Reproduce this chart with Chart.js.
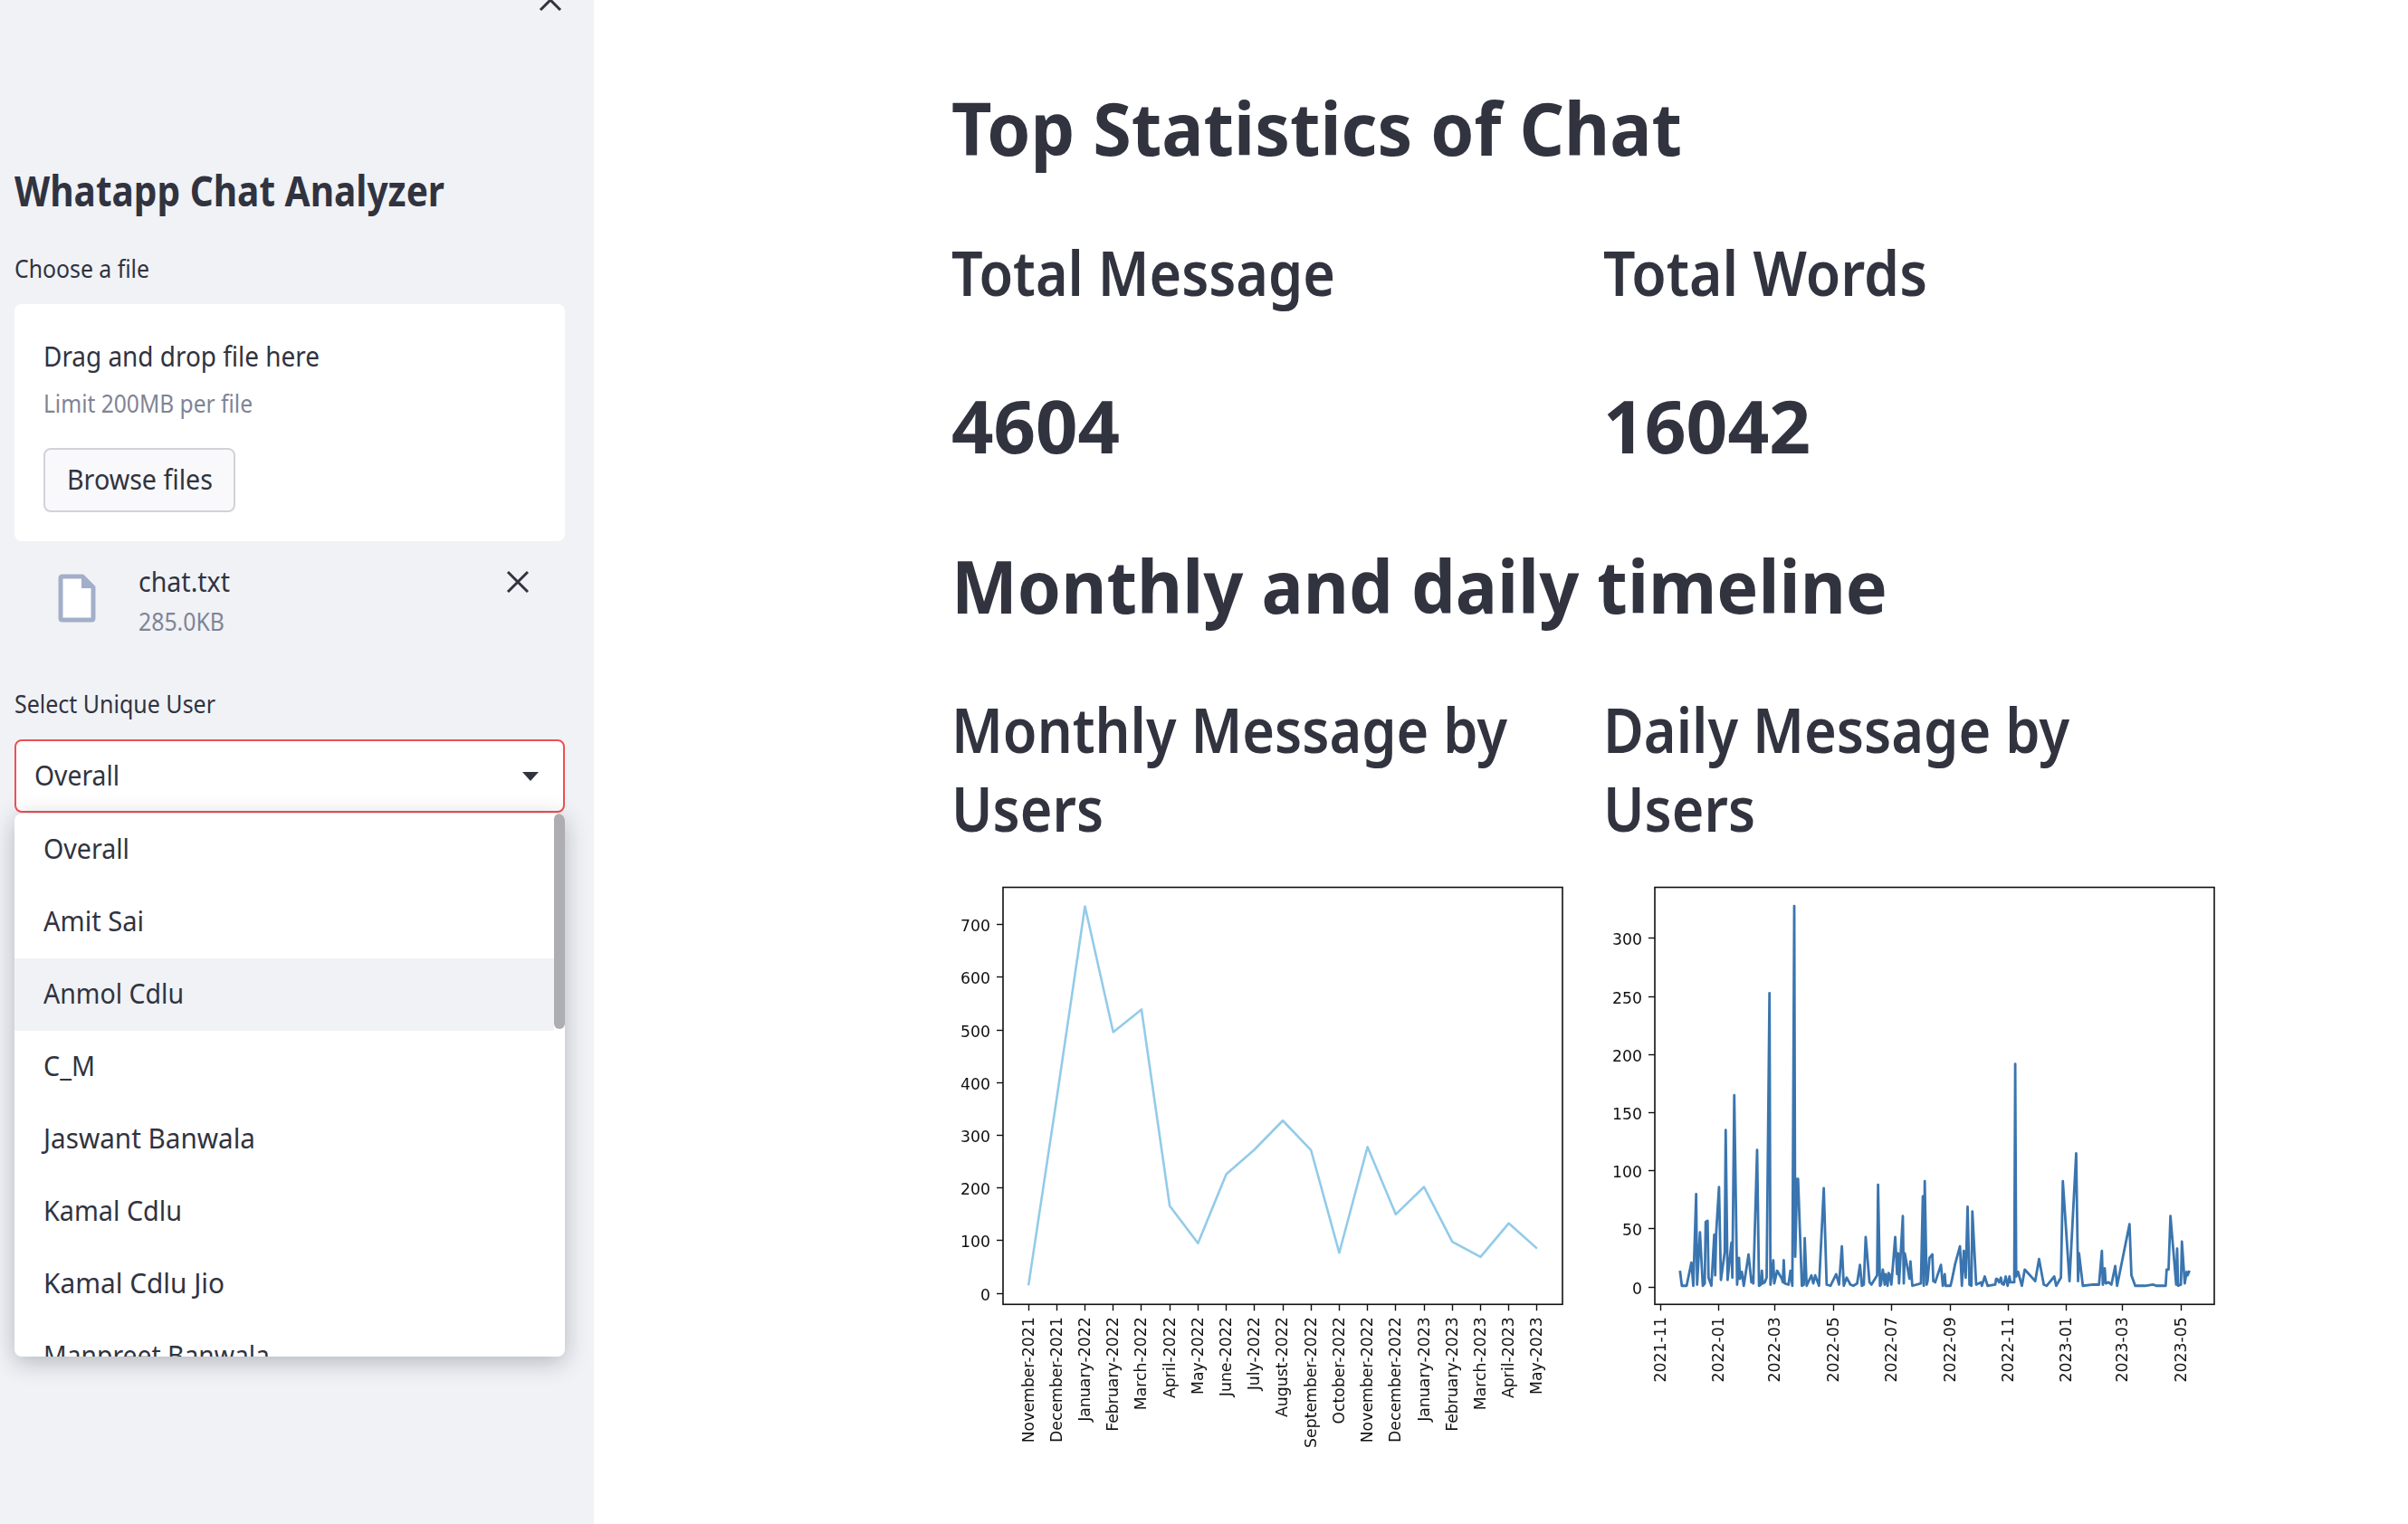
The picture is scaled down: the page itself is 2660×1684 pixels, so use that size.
<!DOCTYPE html>
<html>
<head>
<meta charset="utf-8">
<title>Whatapp Chat Analyzer</title>
<script src="https://cdn.jsdelivr.net/npm/chart.js@4"></script>
<style>
  html, body { margin: 0; padding: 0; background: #fff; }
  body { width: 2660px; height: 1684px; position: relative; overflow: hidden; font-family: "Noto Sans", sans-serif; color: #31333f; }
  .sidebar { position: absolute; left: 0; top: 0; width: 656px; height: 1684px; background: #f0f2f6; }
  .t { position: absolute; white-space: nowrap; transform-origin: 0 50%; line-height: 1; }
  .box { position: absolute; box-sizing: border-box; }
  .b7 { font-weight: 700; }
  .b6 { font-weight: 600; }
  .h1 { font-size: 80px; font-weight: 700; }
  .h3 { font-size: 68px; font-weight: 600; }
  .sm { font-size: 27px; }
  .md { font-size: 31px; }
  .mute { color: #808495; }
  canvas { position: absolute; }
</style>
</head>
<body>
<div class="sidebar"></div>

<svg class="box" style="left:591px;top:-17px" width="34" height="34" viewBox="0 0 34 34"><path d="M6 6 L28 28 M28 6 L6 28" stroke="#31333f" stroke-width="3" fill="none"/></svg>
<div class="t b7" data-w="475" style="left:16px;top:187px;font-size:46px">Whatapp Chat Analyzer</div>
<div class="t sm" data-w="149" style="left:16px;top:283px">Choose a file</div>

<div class="box" style="left:16px;top:336px;width:608px;height:262px;background:#fff;border-radius:8px"></div>
<div class="t md" data-w="305" style="left:48px;top:378px">Drag and drop file here</div>
<div class="t sm mute" data-w="231" style="left:48px;top:432px">Limit 200MB per file</div>
<div class="box" style="left:48px;top:495px;width:212px;height:71px;background:#f9f9fb;border:2px solid #d2d3d8;border-radius:8px"></div>
<div class="t md" data-w="161" style="left:74px;top:514px">Browse files</div>

<svg class="box" style="left:64px;top:634px" width="42" height="54" viewBox="0 0 42 54"><path d="M5 3 H27 L39 15 V49 Q39 51 37 51 H5 Q3 51 3 49 V5 Q3 3 5 3 Z" fill="#fff" stroke="#a3afc9" stroke-width="5" stroke-linejoin="round"/><path d="M26 3 V16 H39 Z" fill="#a3afc9"/></svg>
<div class="t md" data-w="101" style="left:153px;top:627px">chat.txt</div>
<div class="t sm mute" data-w="95" style="left:153px;top:673px">285.0KB</div>
<svg class="box" style="left:555px;top:626px" width="34" height="34" viewBox="0 0 34 34"><path d="M6 6 L28 28 M28 6 L6 28" stroke="#31333f" stroke-width="3" fill="none"/></svg>

<div class="t sm" data-w="222" style="left:16px;top:764px">Select Unique User</div>
<div class="box" style="left:16px;top:817px;width:608px;height:81px;background:#fff;border:2px solid #ef5050;border-radius:8px"></div>
<div class="t md" data-w="94" style="left:38px;top:841px">Overall</div>
<svg class="box" style="left:577px;top:853px" width="18" height="10" viewBox="0 0 18 10"><path d="M0 0 H18 L9 10 Z" fill="#31333f"/></svg>

<div class="box" id="menu" style="left:16px;top:899px;width:608px;height:600px;background:#fff;border-radius:8px;box-shadow:0 6px 26px rgba(40,45,60,.3);overflow:hidden">
  <div class="box" style="left:0;top:160px;width:596px;height:80px;background:#f0f2f6"></div>
  <div class="box" style="left:596px;top:0;width:12px;height:238px;background:#adadb2;border-radius:6px"></div>
  <div class="t md" data-w="95"  style="left:32px;top:23px">Overall</div>
  <div class="t md" data-w="111" style="left:32px;top:103px">Amit Sai</div>
  <div class="t md" data-w="155" style="left:32px;top:183px">Anmol Cdlu</div>
  <div class="t md" data-w="57"  style="left:32px;top:263px">C_M</div>
  <div class="t md" data-w="234" style="left:32px;top:343px">Jaswant Banwala</div>
  <div class="t md" data-w="153" style="left:32px;top:423px">Kamal Cdlu</div>
  <div class="t md" data-w="200" style="left:32px;top:503px">Kamal Cdlu Jio</div>
  <div class="t md" data-w="250" style="left:32px;top:583px">Manpreet Banwala</div>
</div>

<div class="t h1" data-w="807" style="left:1051px;top:101px">Top Statistics of Chat</div>
<div class="t h3" data-w="424" style="left:1051px;top:267px">Total Message</div>
<div class="t h3" data-w="358" style="left:1771px;top:267px">Total Words</div>
<div class="t h1" data-w="186" style="left:1051px;top:430px">4604</div>
<div class="t h1" data-w="229" style="left:1771px;top:430px">16042</div>
<div class="t h1" data-w="1034" style="left:1051px;top:607px">Monthly and daily timeline</div>
<div class="t h3" data-w="614" style="left:1051px;top:772px">Monthly Message by</div>
<div class="t h3" data-w="168" style="left:1051px;top:859px">Users</div>
<div class="t h3" data-w="515" style="left:1771px;top:772px">Daily Message by</div>
<div class="t h3" data-w="168" style="left:1771px;top:859px">Users</div>

<canvas id="monthlyChart" style="left:1040px;top:960px"></canvas>
<canvas id="dailyChart" style="left:1760px;top:960px"></canvas>

<script>
// ---------- Monthly timeline ----------
const months = ['November-2021', 'December-2021', 'January-2022', 'February-2022', 'March-2022', 'April-2022',
  'May-2022', 'June-2022', 'July-2022', 'August-2022', 'September-2022', 'October-2022', 'November-2022',
  'December-2022', 'January-2023', 'February-2023', 'March-2023', 'April-2023', 'May-2023'];
const monthlyMessages = [15, 370, 735, 496, 539, 166, 95, 226, 273, 328, 272, 77, 278, 150, 202, 98, 69, 133, 85];
const monthlyYTicks = [0, 100, 200, 300, 400, 500, 600, 700];

// ---------- Daily timeline (x = days since 2021-11-01) ----------
const dayOffsets = [20, 22, 27, 32, 34, 37, 38, 41, 44, 46, 47, 49, 50, 53, 56, 57, 58, 61, 63, 67, 68, 70, 74, 75, 77,
  80, 82, 83, 85, 87, 92, 95, 96, 97, 101, 103, 105, 106, 107, 109, 111, 114, 115, 118, 119, 122, 127, 128, 129, 130,
  134, 136, 138, 140, 141, 143, 144, 148, 150, 151, 153, 158, 160, 162, 166, 171, 174, 178, 184, 187, 190, 192, 195,
  199, 202, 206, 209, 211, 213, 215, 219, 221, 227, 228, 230, 231, 233, 235, 236, 238, 239, 240, 242, 246, 248, 249,
  250, 254, 255, 256, 261, 262, 264, 273, 275, 276, 277, 279, 280, 282, 285, 286, 288, 294, 296, 298, 299, 304, 305,
  309, 314, 316, 318, 320, 322, 324, 326, 327, 331, 336, 337, 340, 343, 351, 352, 353, 355, 357, 358, 360, 362, 364,
  366, 367, 371, 372, 373, 375, 379, 382, 393, 397, 402, 405, 413, 415, 420, 422, 429, 436, 438, 439, 443, 454, 460,
  463, 464, 466, 467, 470, 473, 477, 479, 492, 494, 498, 508, 517, 520, 530, 531, 533, 535, 541, 542, 543, 546, 547,
  550, 552, 553, 555];
const dailyMessages = [14, 1, 1, 21, 1, 80, 2, 47, 1, 3, 56, 57, 8, 1, 45, 10, 46, 86, 6, 30, 135, 6, 38, 8, 165,
  2, 25, 7, 13, 1, 28, 4, 8, 3, 118, 1, 2, 14, 3, 4, 8, 253, 2, 23, 3, 14, 7, 4, 23, 3,
  2, 14, 1, 328, 26, 93, 93, 1, 2, 42, 1, 10, 3, 10, 1, 85, 2, 1, 11, 2, 35, 1, 8,
  2, 1, 3, 19, 1, 2, 43, 4, 2, 10, 88, 1, 2, 15, 2, 11, 1, 12, 11, 2, 43, 11, 29,
  3, 61, 3, 29, 7, 22, 1, 3, 78, 1, 91, 2, 5, 25, 28, 5, 4, 19, 1, 11, 1, 1, 4,
  20, 35, 1, 31, 8, 69, 2, 1, 65, 2, 4, 1, 9, 1, 2, 7, 7, 4, 8, 3, 2, 9, 1,
  9, 4, 4, 192, 9, 13, 1, 15, 5, 24, 2, 1, 9, 1, 8, 91, 5, 115, 5, 29, 1, 2, 2,
  31, 2, 16, 3, 4, 2, 18, 1, 54, 10, 1, 1, 2, 1, 1, 15, 15, 61, 2, 33, 1, 2, 39,
  3, 13, 10, 14];
const dailyXTickOffsets = [0, 61, 120, 181, 242, 304, 365, 426, 485, 546];
const dailyXTickLabels = ['2021-11', '2022-01', '2022-03', '2022-05', '2022-07', '2022-09', '2022-11', '2023-01', '2023-03', '2023-05'];
const dailyYTicks = [0, 50, 100, 150, 200, 250, 300];

// Squeeze every text run to the width it has in the reference
document.querySelectorAll('.t[data-w]').forEach(el => {
  const w = el.getBoundingClientRect().width;
  el.style.transform = `scaleX(${el.dataset.w / w})`;
});

// Closed box around the plot, like a matplotlib axes frame
const framePlugin = {
  id: 'frame',
  afterDatasetsDraw(chart) {
    const { ctx, chartArea: a } = chart;
    ctx.save();
    ctx.strokeStyle = '#111';
    ctx.lineWidth = 1.6;
    ctx.strokeRect(a.left, a.top, a.right - a.left, a.bottom - a.top);
    ctx.restore();
  }
};

const tickFont = { family: "'DejaVu Sans'", size: 17.3 };

function axis(min, max, values, label, fit, labelOffset) {
  return {
    type: 'linear',
    min,
    max,
    afterBuildTicks: s => { s.ticks = values.map(v => ({ value: v })); },
    afterFit: fit,
    border: { display: false },
    grid: { drawOnChartArea: false, drawTicks: true, tickLength: 7, tickColor: '#111', tickWidth: 1.4 },
    ticks: { color: '#111', font: tickFont, padding: 7, autoSkip: false, labelOffset, callback: label }
  };
}

function lineChart(id, size, points, color, width, xAxis, yAxis, pad) {
  const canvas = document.getElementById(id);
  canvas.width = size.w;
  canvas.height = size.h;
  canvas.style.width = size.w + 'px';
  canvas.style.height = size.h + 'px';
  return new Chart(canvas, {
    type: 'line',
    data: { datasets: [{ data: points, borderColor: color, borderWidth: width, pointRadius: 0, tension: 0, fill: false, borderJoinStyle: 'round', clip: false }] },
    options: {
      responsive: false,
      animation: false,
      layout: { padding: pad },
      plugins: { legend: { display: false }, tooltip: { enabled: false } },
      scales: { x: xAxis, y: yAxis }
    },
    plugins: [framePlugin]
  });
}

const monthlyX = axis(-0.9, 18.9, months.map((m, i) => i), (v, i) => months[i], s => { s.height = 158.7; }, 1);
monthlyX.ticks.minRotation = 90;
monthlyX.ticks.maxRotation = 90;
const monthlyY = axis(-21, 771, monthlyYTicks, v => String(v), s => { s.width = 68; }, 3);

lineChart('monthlyChart', { w: 700, h: 640 }, monthlyMessages.map((v, i) => ({ x: i, y: v })), '#93cbe9', 2.6,
  monthlyX, monthlyY, { top: 20.5, right: 14, left: 0, bottom: 0 });

const dailyX = axis(-6.4, 581, dailyXTickOffsets, (v, i) => dailyXTickLabels[i], s => { s.height = 158.7; }, 1);
dailyX.ticks.minRotation = 90;
dailyX.ticks.maxRotation = 90;
const dailyY = axis(-15, 344, dailyYTicks, v => String(v), s => { s.width = 68; }, 3);

lineChart('dailyChart', { w: 700, h: 640 }, dayOffsets.map((d, i) => ({ x: d, y: dailyMessages[i] })), '#3a75af', 2.8,
  dailyX, dailyY, { top: 20.5, right: 14, left: 0, bottom: 0 });
</script>
</body>
</html>
